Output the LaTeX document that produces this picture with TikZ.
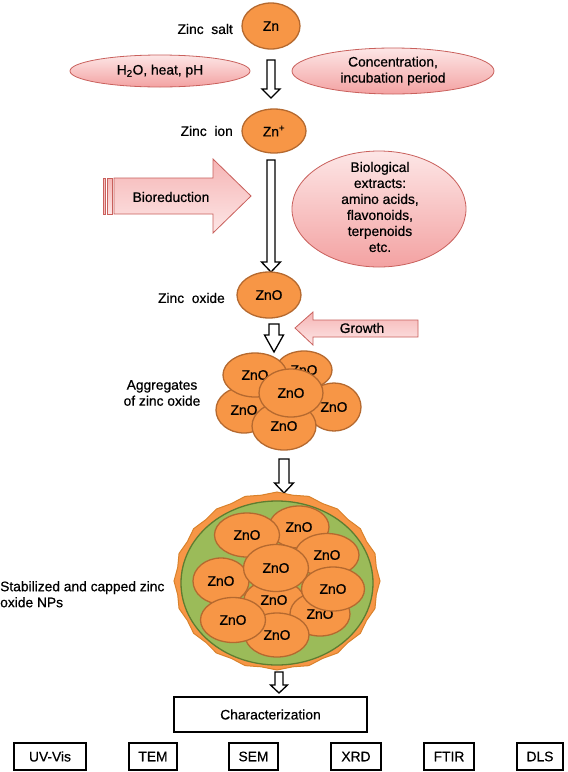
\documentclass[tikz,border=0pt]{standalone}
\usepackage{fontspec}
\setmainfont{Liberation Sans}[FakeBold=0.6]
\usetikzlibrary{shapes.geometric}
\definecolor{zfill}{HTML}{F79646}
\definecolor{zline}{HTML}{B5692F}
\definecolor{pinkline}{HTML}{C9605C}
\definecolor{pinktop}{HTML}{FDE6E6}
\definecolor{pinkbot}{HTML}{F3A2A2}
\definecolor{gfill}{HTML}{9BBB59}
\definecolor{gline}{HTML}{5E7D30}
\definecolor{capline}{HTML}{D9822B}
\newcommand{\hollowdown}[7]{%
  \draw[hollowarrow] (#2-#6,#3) -- (#2+#6,#3) -- (#2+#6,#4) -- (#2+#7,#4) -- (#2,#5) -- (#2-#7,#4) -- (#2-#6,#4) -- cycle;
  \coordinate (#1) at (#2,#5);}
\begin{document}
\begin{tikzpicture}[x=1pt,y=-1pt,
  txt/.style={font=\fontsize{13.8}{16}\selectfont, inner sep=0pt, align=center},
  zn/.style={ellipse, draw=zline, fill=zfill, line width=1.3pt, inner sep=0pt, font=\fontsize{13.8}{16}\selectfont},
  pinkell/.style={ellipse, draw=pinkline, top color=pinktop, bottom color=pinkbot, line width=0.8pt, inner sep=0pt},
  pinkarrow/.style={draw=pinkline, top color=pinkbot!80, bottom color=pinktop, line width=0.8pt},
  hollowarrow/.style={draw=black, fill=white, line width=1.3pt, line join=miter},
  box/.style={draw=black, line width=1.4pt, fill=white, inner sep=0pt, font=\fontsize{13.8}{16}\selectfont}]
\useasboundingbox (0,0) rectangle (568,772);
\fill[white] (0,0) rectangle (568,772);

% Zinc salt
\node[zn, minimum width=58, minimum height=46] (zn) at (271,26) {Zn};
\node[txt, anchor=east] (znlab) at (233,29) {Zinc\ \ salt};

% conditions
\node[pinkell, minimum width=180, minimum height=32] (h2o) at (160,71) {};
\node[txt] (h2ot) at (h2o) {H\textsubscript{2}O, heat, pH};
\node[pinkell, minimum width=202, minimum height=46] (conc) at (393,71) {};
\node[txt] (conct) at (conc) {Concentration,\\incubation period};

\hollowdown{a1}{271}{60}{89}{98}{4}{9}

% Zinc ion
\node[zn, minimum width=64, minimum height=44] (znp) at (274,131) {Zn\textsuperscript{+}};
\node[txt, anchor=east] (znplab) at (233,131) {Zinc\ \ ion};

\hollowdown{a2}{271}{160}{262}{272}{4}{9.5}

% Bioreduction arrow
\fill[pinkbot!70] (103,178) rectangle (105,214);
\draw[pinkline, line width=0.6pt] (103,178) rectangle (105,214);
\draw[pinkarrow] (107,178) rectangle (112,214);
\draw[pinkarrow] (114,178) -- (213,178) -- (213,159) -- (251,196) -- (213,233) -- (213,214) -- (114,214) -- cycle;
\node[txt] (bior) at (171,197) {Bioreduction};

% Biological extracts
\node[pinkell, minimum width=174, minimum height=116] (bio) at (379,209) {};
\node[txt] (biot) at (380,207) {Biological\\extracts:\\amino acids,\\flavonoids,\\terpenoids\\etc.};

% Zinc oxide
\node[zn, minimum width=64, minimum height=46] (zno) at (269,295) {ZnO};
\node[txt, anchor=east] (znolab) at (225,298) {Zinc\ \ oxide};

% Growth arrow
\draw[pinkarrow] (418,320) -- (313,320) -- (313,312) -- (295,328) -- (313,345) -- (313,337) -- (418,337) -- cycle;
\node[txt] (growth) at (362,328) {Growth};

\hollowdown{a3}{274}{324}{335}{352}{5}{9.5}

% Aggregates
\node[zn, minimum width=56, minimum height=38] (g2) at (304,370) {ZnO};
\node[zn, minimum width=54, minimum height=48] (g5) at (334,407) {ZnO};
\node[zn, minimum width=56, minimum height=46] (g4) at (244,410) {ZnO};
\node[zn, minimum width=64, minimum height=44] (g1) at (255,375) {ZnO};
\node[zn, minimum width=64, minimum height=48] (g6) at (284,426) {ZnO};
\node[zn, minimum width=64, minimum height=48] (g3) at (291,393) {ZnO};
\node[txt] (agglab) at (162,393) {Aggregates\\of zinc oxide};

\hollowdown{a4}{284}{459}{483}{493}{5}{9.5}

% Stabilized and capped
\fill[zfill, draw=capline, line width=1pt] plot[samples=41, domain=-90:270, variable=\t]
  ({277+103*(1-0.012*(1-cos(20*\t)))*cos(\t)}, {581+89*(1-0.012*(1-cos(20*\t)))*sin(\t)}) -- cycle;
\node[ellipse, draw=gline, fill=gfill, line width=1.3pt, minimum width=192, minimum height=164, inner sep=0pt] (cap) at (277,583) {};
\node[zn, minimum width=60, minimum height=40] (c7) at (274,600) {ZnO};
\node[zn, minimum width=60, minimum height=44] (c8) at (320,614) {ZnO};
\node[zn, minimum width=64, minimum height=44] (c10) at (277,635) {ZnO};
\node[zn, minimum width=60, minimum height=42] (c2) at (299,527) {ZnO};
\node[zn, minimum width=65, minimum height=44] (c1) at (247,535) {ZnO};
\node[zn, minimum width=64, minimum height=43] (c3) at (327,555) {ZnO};
\node[zn, minimum width=56, minimum height=46] (c5) at (221,581) {ZnO};
\node[zn, minimum width=65, minimum height=45] (c9) at (233,620) {ZnO};
\node[zn, minimum width=65, minimum height=47] (c4) at (276,568) {ZnO};
\node[zn, minimum width=63, minimum height=44] (c6) at (333,589) {ZnO};
\node[txt, anchor=north west, align=left] (caplab) at (0,581) {Stabilized and capped zinc\\oxide NPs};

\hollowdown{a5}{279}{672}{685}{693}{4}{8.5}

% Characterization
\node[box, minimum width=193, minimum height=35] (char) at (270.5,714.5) {Characterization};
\node[box, minimum width=72, minimum height=27] (uv) at (50,756.5) {UV-Vis};
\node[box, minimum width=48, minimum height=27] (tem) at (153,756.5) {TEM};
\node[box, minimum width=49, minimum height=27] (sem) at (253.5,756.5) {SEM};
\node[box, minimum width=50, minimum height=27] (xrd) at (356,756.5) {XRD};
\node[box, minimum width=50, minimum height=27] (ftir) at (449,756.5) {FTIR};
\node[box, minimum width=46, minimum height=27] (dls) at (540,756.5) {DLS};
\end{tikzpicture}
\end{document}
